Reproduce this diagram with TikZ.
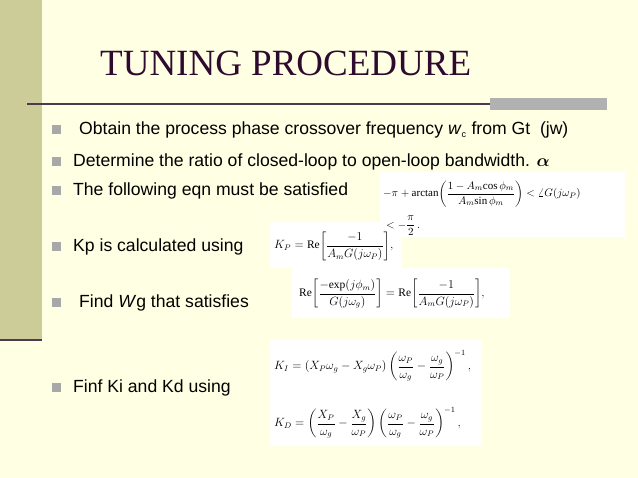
\documentclass[tikz,border=0pt]{standalone}
\usepackage{amsmath}
\usepackage{fontspec}
\setmainfont{Liberation Sans}
\newfontfamily\titlefont{Liberation Serif}
\newcommand{\srm}[1]{\text{\titlefont #1}}
\definecolor{bg}{HTML}{FFFFE3}
\definecolor{strip}{HTML}{CCCC99}
\definecolor{rule}{HTML}{4E3A4E}
\definecolor{titlec}{HTML}{2E0A2E}
\definecolor{bul}{HTML}{A8A8A8}
\begin{document}
\begin{tikzpicture}[x=1pt,y=-1pt,
  txt/.style={anchor=west,inner sep=0pt,font=\fontsize{17.6}{20}\selectfont},
  bulsq/.style={fill=bul,minimum size=9pt,inner sep=0pt},
  eq/.style={anchor=west,inner sep=0pt,font=\fontsize{11.5}{13}\selectfont}]
\useasboundingbox (0,0) rectangle (638,478);
\fill[bg] (0,0) rectangle (638,478);
\fill[strip] (0,0) rectangle (42,340);
\draw[rule,line width=1.5pt] (0,340) -- (42,340);
\draw[rule,line width=1.5pt] (27,104) -- (600,104);
\fill[bul!90] (490,98) rectangle (607,110);
\node[anchor=base west,inner sep=0pt,text=titlec,font=\titlefont\fontsize{37}{40}\selectfont] (title) at (100,76) {TUNING PROCEDURE};
% equation boxes
\fill[white] (380,172) rectangle (625,237);
\fill[white] (270,222) rectangle (402,268);
\fill[white] (292,268) rectangle (510,318);
\fill[white] (270,340) rectangle (482,446);
% bullets
\foreach \y/\n in {130/b1,162/b2,191/b3,247/b4,303/b5,388/b6}
  \node[bulsq] (\n) at (56,\y) {};
\node[txt] (t1) at (79,130) {Obtain the process phase crossover frequency \textit{w}\textsubscript{\fontsize{9}{9}\selectfont c} from Gt\ \ (jw)};
\node[txt] (t2) at (73,162) {Determine the ratio of closed-loop to open-loop bandwidth. $\boldsymbol\alpha$};
\node[txt] (t3) at (73,191) {The following eqn must be satisfied};
\node[txt] (t4) at (73,247) {Kp is calculated using};
\node[txt] (t5) at (79,303) {Find \textit{W}g that satisfies};
\node[txt] (t6) at (73,388) {Finf Ki and Kd using};
% equations
\node[eq,font=\fontsize{11}{12}\selectfont] (e1) at (383,194) {$-\pi+\srm{arctan}\!\left(\dfrac{1-A_m\srm{cos}\,\phi_m}{A_m\srm{sin}\,\phi_m}\right)<\angle G(j\omega_P)$};
\node[eq,font=\fontsize{11}{12}\selectfont] (e1b) at (386,226) {$<-\dfrac{\pi}{2}\,.$};
\node[eq] (e2) at (274,246) {$K_P=\srm{Re}\!\left[\dfrac{-1}{A_mG(j\omega_P)}\right]\!,$};
\node[eq] (e3) at (299,294) {$\srm{Re}\!\left[\dfrac{-\srm{exp}(j\phi_m)}{G(j\omega_g)}\right]=\srm{Re}\!\left[\dfrac{-1}{A_mG(j\omega_P)}\right]\!,$};
\node[eq] (e4) at (274,366) {$K_I=\left(X_P\omega_g-X_g\omega_P\right)\left(\dfrac{\omega_P}{\omega_g}-\dfrac{\omega_g}{\omega_P}\right)^{-1},$};
\node[eq] (e5) at (274,423) {$K_D=\left(\dfrac{X_P}{\omega_g}-\dfrac{X_g}{\omega_P}\right)\left(\dfrac{\omega_P}{\omega_g}-\dfrac{\omega_g}{\omega_P}\right)^{-1},$};
\end{tikzpicture}
\end{document}
